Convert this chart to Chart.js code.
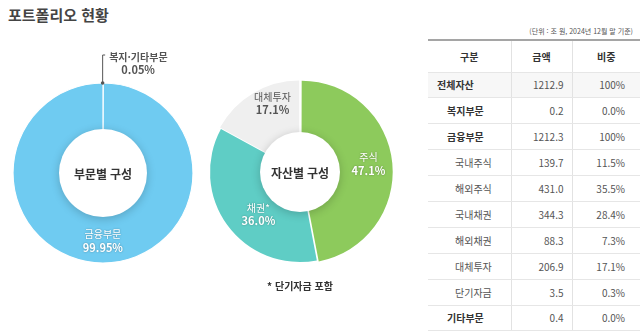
<!DOCTYPE html>
<html lang="ko">
<head>
<meta charset="utf-8">
<script src="https://cdn.jsdelivr.net/npm/chart.js@4/dist/chart.umd.min.js"></script>
<style>
  html, body { margin: 0; padding: 0; background: #fff; }
  body { width: 640px; height: 336px; position: relative; overflow: hidden;
         font-family: 'Noto Sans CJK KR', 'Noto Sans', sans-serif; color: #333; }
  #title { position: absolute; left: 8px; top: 4px; font-size: 15px; font-weight: bold; color: #444; }
  canvas { position: absolute; }
  #sectorChart { left: 0; top: 40px; }
  #assetChart { left: 190px; top: 62px; }
  #note { position: absolute; left: 200px; width: 200px; top: 278px; text-align: center;
          font-size: 10px; font-weight: bold; color: #333; }
  #unit { position: absolute; right: 7px; top: 26px; font-size: 7px; color: #555; white-space: nowrap; }
  #summary { position: absolute; left: 428px; top: 39px; width: 212px; border-collapse: collapse;
             table-layout: fixed; font-size: 10px; }
  #summary th, #summary td { padding: 0; border-bottom: 1px solid #e6e6e6; box-sizing: border-box; }
  #summary th + th, #summary td + td { border-left: 1px solid #e2e2e2; }
  #summary thead tr { height: 32px; }
  #summary thead th { border-top: 2px solid #a5a5a5; font-weight: bold; color: #333; text-align: center; }
  #summary tbody tr { height: 25.9px; }
  #summary td { color: #555; }
  #summary td.num { text-align: right; }
  #summary td.amt { padding-right: 8px; }
  #summary td.shr { padding-right: 15px; }
  #summary td.lv0 { padding-left: 9px; font-weight: bold; color: #333; }
  #summary td.lv1 { padding-left: 19px; font-weight: bold; color: #333; }
  #summary td.lv2 { padding-left: 27px; }
  #summary tr.total td { background: #f7f7f7; }
</style>
</head>
<body>
<div id="title">포트폴리오 현황</div>
<canvas id="sectorChart" width="206" height="266"></canvas>
<canvas id="assetChart" width="220" height="220"></canvas>
<div id="note">* 단기자금 포함</div>
<div id="unit">(단위 : 조 원, 2024년 12월 말 기준)</div>
<table id="summary">
  <colgroup><col style="width:83px"><col style="width:61px"><col style="width:68px"></colgroup>
  <thead><tr id="headRow"></tr></thead>
  <tbody id="bodyRows"></tbody>
</table>
<script>
// Sector split (percent of total assets)
const sectorLabels = ['복지·기타부문', '금융부문'];
const sectorValues = [0.05, 99.95];
const sectorColors = ['#e4e4e4', '#6fcbf1'];

// Asset class split of the financial sector (percent)
const assetLabels = ['주식', '채권*', '대체투자'];
const assetValues = [47.1, 36.0, 17.1];
const assetColors = ['#8dca5c', '#5fcdc5', '#efefef'];
const assetTextColors = ['#fff', '#fff', '#555'];

// Summary table
const tableHeaders = ['구분', '금액', '비중'];
const tableLabels = ['전체자산', '복지부문', '금융부문', '국내주식', '해외주식', '국내채권', '해외채권', '대체투자', '단기자금', '기타부문'];
const tableLevels = [0, 1, 1, 2, 2, 2, 2, 2, 2, 1];
const tableAmounts = ['1212.9', '0.2', '1212.3', '139.7', '431.0', '344.3', '88.3', '206.9', '3.5', '0.4'];
const tableShares = ['100%', '0.0%', '100%', '11.5%', '35.5%', '28.4%', '7.3%', '17.1%', '0.3%', '0.0%'];

// build the table
const headRow = document.getElementById('headRow');
tableHeaders.forEach(h => { const th = document.createElement('th'); th.textContent = h; headRow.appendChild(th); });
const bodyRows = document.getElementById('bodyRows');
tableLabels.forEach((label, i) => {
  const tr = document.createElement('tr');
  if (tableLevels[i] === 0) tr.className = 'total';
  const c1 = document.createElement('td'); c1.className = 'lv' + tableLevels[i]; c1.textContent = label;
  const c2 = document.createElement('td'); c2.className = 'num amt'; c2.textContent = tableAmounts[i];
  const c3 = document.createElement('td'); c3.className = 'num shr'; c3.textContent = tableShares[i];
  tr.append(c1, c2, c3);
  bodyRows.appendChild(tr);
});

const FONT = "'Noto Sans CJK KR', 'Noto Sans', sans-serif";

// white hub, centre title and slice labels
const donutDecor = {
  id: 'donutDecor',
  afterDatasetsDraw(chart, args, opts) {
    const ctx = chart.ctx;
    const meta = chart.getDatasetMeta(0);
    const ds = chart.data.datasets[0];
    const { x, y } = meta.data[0].getProps(['x', 'y'], true);

    ctx.save();
    ctx.shadowColor = 'rgba(0,0,0,0.2)';
    ctx.shadowBlur = 10;
    ctx.shadowOffsetY = 2;
    ctx.beginPath();
    ctx.arc(x, y, opts.hubRadius, 0, Math.PI * 2);
    ctx.fillStyle = '#fff';
    ctx.fill();
    ctx.restore();

    ctx.save();
    ctx.textAlign = 'center';
    ctx.textBaseline = 'middle';
    ctx.fillStyle = '#333';
    ctx.font = 'bold 12px ' + FONT;
    ctx.fillText(opts.centerText, x, y + 1);
    ctx.restore();

    meta.data.forEach((arc, i) => {
      const value = ds.data[i];
      const pct = value.toFixed(opts.decimals) + '%';
      const p = arc.getProps(['startAngle', 'endAngle', 'innerRadius', 'outerRadius'], true);
      if (opts.outside.includes(i)) {
        // leader line from the rim up to the caption
        const mid = (p.startAngle + p.endAngle) / 2;
        const ax = x + Math.cos(mid) * p.outerRadius;
        const ay = y + Math.sin(mid) * p.outerRadius;
        ctx.save();
        ctx.strokeStyle = '#555';
        ctx.lineWidth = 1;
        ctx.beginPath();
        ctx.moveTo(ax - 0.5, ay);
        ctx.lineTo(ax - 0.5, ay - 28);
        ctx.lineTo(ax + 2, ay - 28);
        ctx.stroke();
        ctx.fillStyle = '#555';
        ctx.beginPath();
        ctx.arc(ax - 0.5, ay, 1.8, 0, Math.PI * 2);
        ctx.fill();
        ctx.textBaseline = 'middle';
        ctx.textAlign = 'left';
        ctx.font = 'bold 10px ' + FONT;
        ctx.fillText(chart.data.labels[i], ax + 6, ay - 26);
        ctx.textAlign = 'center';
        ctx.font = 'bold 11px ' + FONT;
        ctx.fillText(pct, ax + 35, ay - 13);
        ctx.restore();
        return;
      }
      // caption anchored at a fraction of the slice's sweep and ring depth
      const f = opts.anglePos ? opts.anglePos[i] : 0.5;
      const rf = opts.radiusPos ? opts.radiusPos[i] : 0.5;
      const ang = p.startAngle + (p.endAngle - p.startAngle) * f;
      const off = Array.isArray(ds.offset) ? (ds.offset[i] || 0) : (ds.offset || 0);
      const r = p.innerRadius + (p.outerRadius - p.innerRadius) * rf;
      const midA = (p.startAngle + p.endAngle) / 2;
      const cx = x + Math.cos(ang) * r + Math.cos(midA) * off;
      const cy = y + Math.sin(ang) * r + Math.sin(midA) * off;
      const color = opts.textColors[i];
      ctx.save();
      ctx.textAlign = 'center';
      ctx.textBaseline = 'middle';
      ctx.fillStyle = color;
      if (color === '#fff') {
        ctx.shadowColor = 'rgba(0,0,0,0.35)';
        ctx.shadowBlur = 2;
      }
      ctx.font = '10px ' + FONT;
      ctx.fillText(chart.data.labels[i], cx, cy - 6);
      ctx.font = 'bold 11px ' + FONT;
      ctx.fillText(pct, cx, cy + 7);
      ctx.restore();
    });
  }
};

const baseOptions = {
  responsive: false,
  animation: false,
  devicePixelRatio: 1,
  layout: { padding: 0 },
  plugins: { legend: { display: false }, tooltip: { enabled: false } }
};

new Chart(document.getElementById('sectorChart'), {
  type: 'doughnut',
  data: {
    labels: sectorLabels,
    datasets: [{
      data: sectorValues,
      backgroundColor: sectorColors,
      borderColor: '#fff',
      borderWidth: 1.2
    }]
  },
  options: {
    ...baseOptions,
    radius: 90,
    cutout: 44,
    plugins: {
      ...baseOptions.plugins,
      donutDecor: {
        hubRadius: 44, centerText: '부문별 구성', decimals: 2, outside: [0],
        textColors: ['#555', '#fff'], radiusPos: [0.5, 0.56]
      }
    }
  },
  plugins: [donutDecor]
});

new Chart(document.getElementById('assetChart'), {
  type: 'doughnut',
  data: {
    labels: assetLabels,
    datasets: [{
      data: assetValues,
      backgroundColor: assetColors,
      borderWidth: 0,
      offset: [6, 0, 6]
    }]
  },
  options: {
    ...baseOptions,
    radius: 90,
    cutout: 40,
    plugins: {
      ...baseOptions.plugins,
      donutDecor: {
        hubRadius: 40, centerText: '자산별 구성', decimals: 1, outside: [],
        textColors: assetTextColors, anglePos: [0.49, 0.43, 0.66], radiusPos: [0.52, 0.45, 0.62]
      }
    }
  },
  plugins: [donutDecor]
});
</script>
</body>
</html>
